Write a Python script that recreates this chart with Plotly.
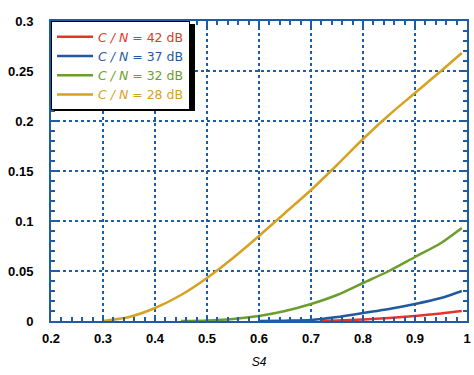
import plotly.graph_objects as go

# Data
s4_orange = [0.30, 0.35, 0.40, 0.45, 0.50, 0.55, 0.60, 0.65, 0.70, 0.75, 0.80, 0.85, 0.90, 0.95, 0.99]
pe_orange = [0.0, 0.004, 0.013, 0.026, 0.043, 0.063, 0.085, 0.108, 0.131, 0.156, 0.182, 0.206, 0.228, 0.250, 0.268]

s4_green = [0.45, 0.50, 0.55, 0.60, 0.65, 0.70, 0.75, 0.80, 0.85, 0.90, 0.95, 0.99]
pe_green = [0.0, 0.0005, 0.002, 0.005, 0.010, 0.017, 0.026, 0.038, 0.050, 0.064, 0.078, 0.093]

s4_blue = [0.60, 0.65, 0.70, 0.75, 0.80, 0.85, 0.90, 0.95, 0.99]
pe_blue = [0.0, 0.0003, 0.001, 0.004, 0.008, 0.012, 0.017, 0.023, 0.030]

s4_red = [0.72, 0.75, 0.80, 0.85, 0.90, 0.95, 0.99]
pe_red = [0.0, 0.0005, 0.0015, 0.003, 0.005, 0.0075, 0.010]

labels = ["42", "37", "32", "28"]
colors = ["#e5352b", "#1f5aa0", "#6b9e2d", "#d6a222"]

x_ticks = [0.2, 0.3, 0.4, 0.5, 0.6, 0.7, 0.8, 0.9, 1.0]
x_ticktext = ["0.2", "0.3", "0.4", "0.5", "0.6", "0.7", "0.8", "0.9", "1"]
y_ticks = [0, 0.05, 0.1, 0.15, 0.2, 0.25, 0.3]
y_ticktext = ["0", "0.05", "0.1", "0.15", "0.2", "0.25", "0.3"]

axis_blue = "#1d5ca6"

fig = go.Figure()
series = [(s4_red, pe_red), (s4_blue, pe_blue), (s4_green, pe_green), (s4_orange, pe_orange)]
for (xs, ys), lab, col in zip(series, labels, colors):
    fig.add_trace(go.Scatter(
        x=xs, y=ys, mode="lines",
        line=dict(color=col, width=2.5, shape="spline", smoothing=0.8),
        name=f'<span style="color:{col}"><i>C / N</i> = {lab} dB</span>',
    ))

axis_common = dict(
    showline=True, linecolor=axis_blue, linewidth=2, mirror="ticks",
    ticks="inside", ticklen=6, tickcolor=axis_blue, tickwidth=1.5,
    showgrid=True, gridcolor=axis_blue, griddash="dot", gridwidth=1.5,
    zeroline=False, automargin=False, ticklabeloverflow="allow",
    tickfont=dict(family="Arial, Liberation Sans, sans-serif", size=13, color="black", weight="bold"),
)

fig.update_xaxes(
    range=[0.2, 1.0], tickmode="array", tickvals=x_ticks, ticktext=x_ticktext,
    minor=dict(dtick=0.02, ticks="inside", ticklen=4, tickcolor=axis_blue, showgrid=False),
    title=dict(text="<i>S4</i>", font=dict(family="Arial, Liberation Sans, sans-serif", size=12, color="black"), standoff=13),
    ticklabelstandoff=4,
    **axis_common,
)
fig.update_yaxes(
    range=[0, 0.3], tickmode="array", tickvals=y_ticks, ticktext=y_ticktext,
    minor=dict(dtick=0.01, ticks="inside", ticklen=4, tickcolor=axis_blue, showgrid=False),
    ticklabelstandoff=13,
    **axis_common,
)

# legend shadow (peeks out at right and bottom of the legend box)
fig.add_shape(type="rect", xref="paper", yref="paper",
              x0=3/416, x1=144/416, y0=1-90/300, y1=1-3/300,
              fillcolor="black", line=dict(width=0), layer="above")

fig.update_layout(
    width=474, height=375,
    margin=dict(l=51, r=7, t=21, b=54),
    paper_bgcolor="white", plot_bgcolor="white",
    showlegend=True,
    legend=dict(
        x=0, y=1, xanchor="left", yanchor="top",
        bgcolor="white", bordercolor="black", borderwidth=1,
        font=dict(family="DejaVu Sans, sans-serif", size=12.5),
        tracegroupgap=0, itemwidth=36,
    ),
)

fig.write_html("out.html", config={"displayModeBar": False},
               post_script="document.body.style.margin='0';document.body.style.overflow='hidden';")
